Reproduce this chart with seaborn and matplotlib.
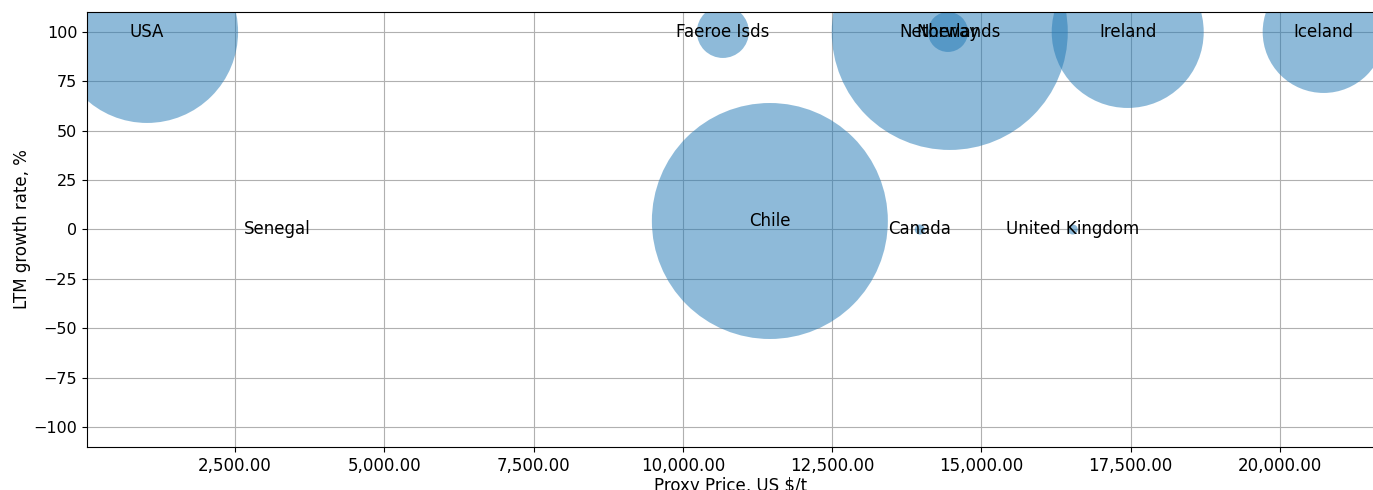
import matplotlib
matplotlib.use("Agg")
import matplotlib.pyplot as plt
import matplotlib.ticker as mticker
import seaborn as sns
import pandas as pd

countries = ["USA", "Senegal", "Faeroe Isds", "Chile", "Netherlands", "Norway",
             "Canada", "United Kingdom", "Ireland", "Iceland"]
proxy_price = [1027, 3200, 10670, 11457, 14470, 14440, 13968, 16530, 17450, 20732]
growth_rate = [100, 0, 100, 4.3, 100, 100, 0, 0, 100, 100]
volume = [17170, 0, 1402, 28870, 28870, 829, 52, 52, 11977, 7716]

df = pd.DataFrame({"country": countries, "price": proxy_price,
                   "growth": growth_rate, "volume": volume})

fig = plt.figure(figsize=(13.73, 4.9), dpi=100)
ax = fig.add_axes([0.0634, 0.0878, 0.9376, 0.8877])

sns.scatterplot(data=df, x="price", y="growth", size="volume",
                sizes=(0, 28870), size_norm=(0, max(volume)),
                color="#1f77b4", alpha=0.5, linewidth=0, legend=False, ax=ax,
                zorder=2)

for name, x, y in zip(countries, proxy_price, growth_rate):
    ax.text(x, y, name, ha="center", va="center", fontsize=12, zorder=3)

ax.set_xlim(21.5, 21581)
ax.set_ylim(-110.1, 110.1)
ax.set_xticks([2500, 5000, 7500, 10000, 12500, 15000, 17500, 20000])
ax.set_yticks([-100, -75, -50, -25, 0, 25, 50, 75, 100])
ax.xaxis.set_major_formatter(mticker.FuncFormatter(lambda v, p: f"{v:,.2f}"))
ax.grid(True, color="#b0b0b0", linewidth=0.8, zorder=0)
ax.set_axisbelow(True)
ax.tick_params(axis="x", labelsize=12)
ax.tick_params(axis="y", labelsize=11.5)
ax.set_xlabel("Proxy Price, US $/t", fontsize=12, labelpad=1.5)
ax.set_ylabel("LTM growth rate, %", fontsize=12, labelpad=2)

fig.savefig("out.png", dpi=100)
